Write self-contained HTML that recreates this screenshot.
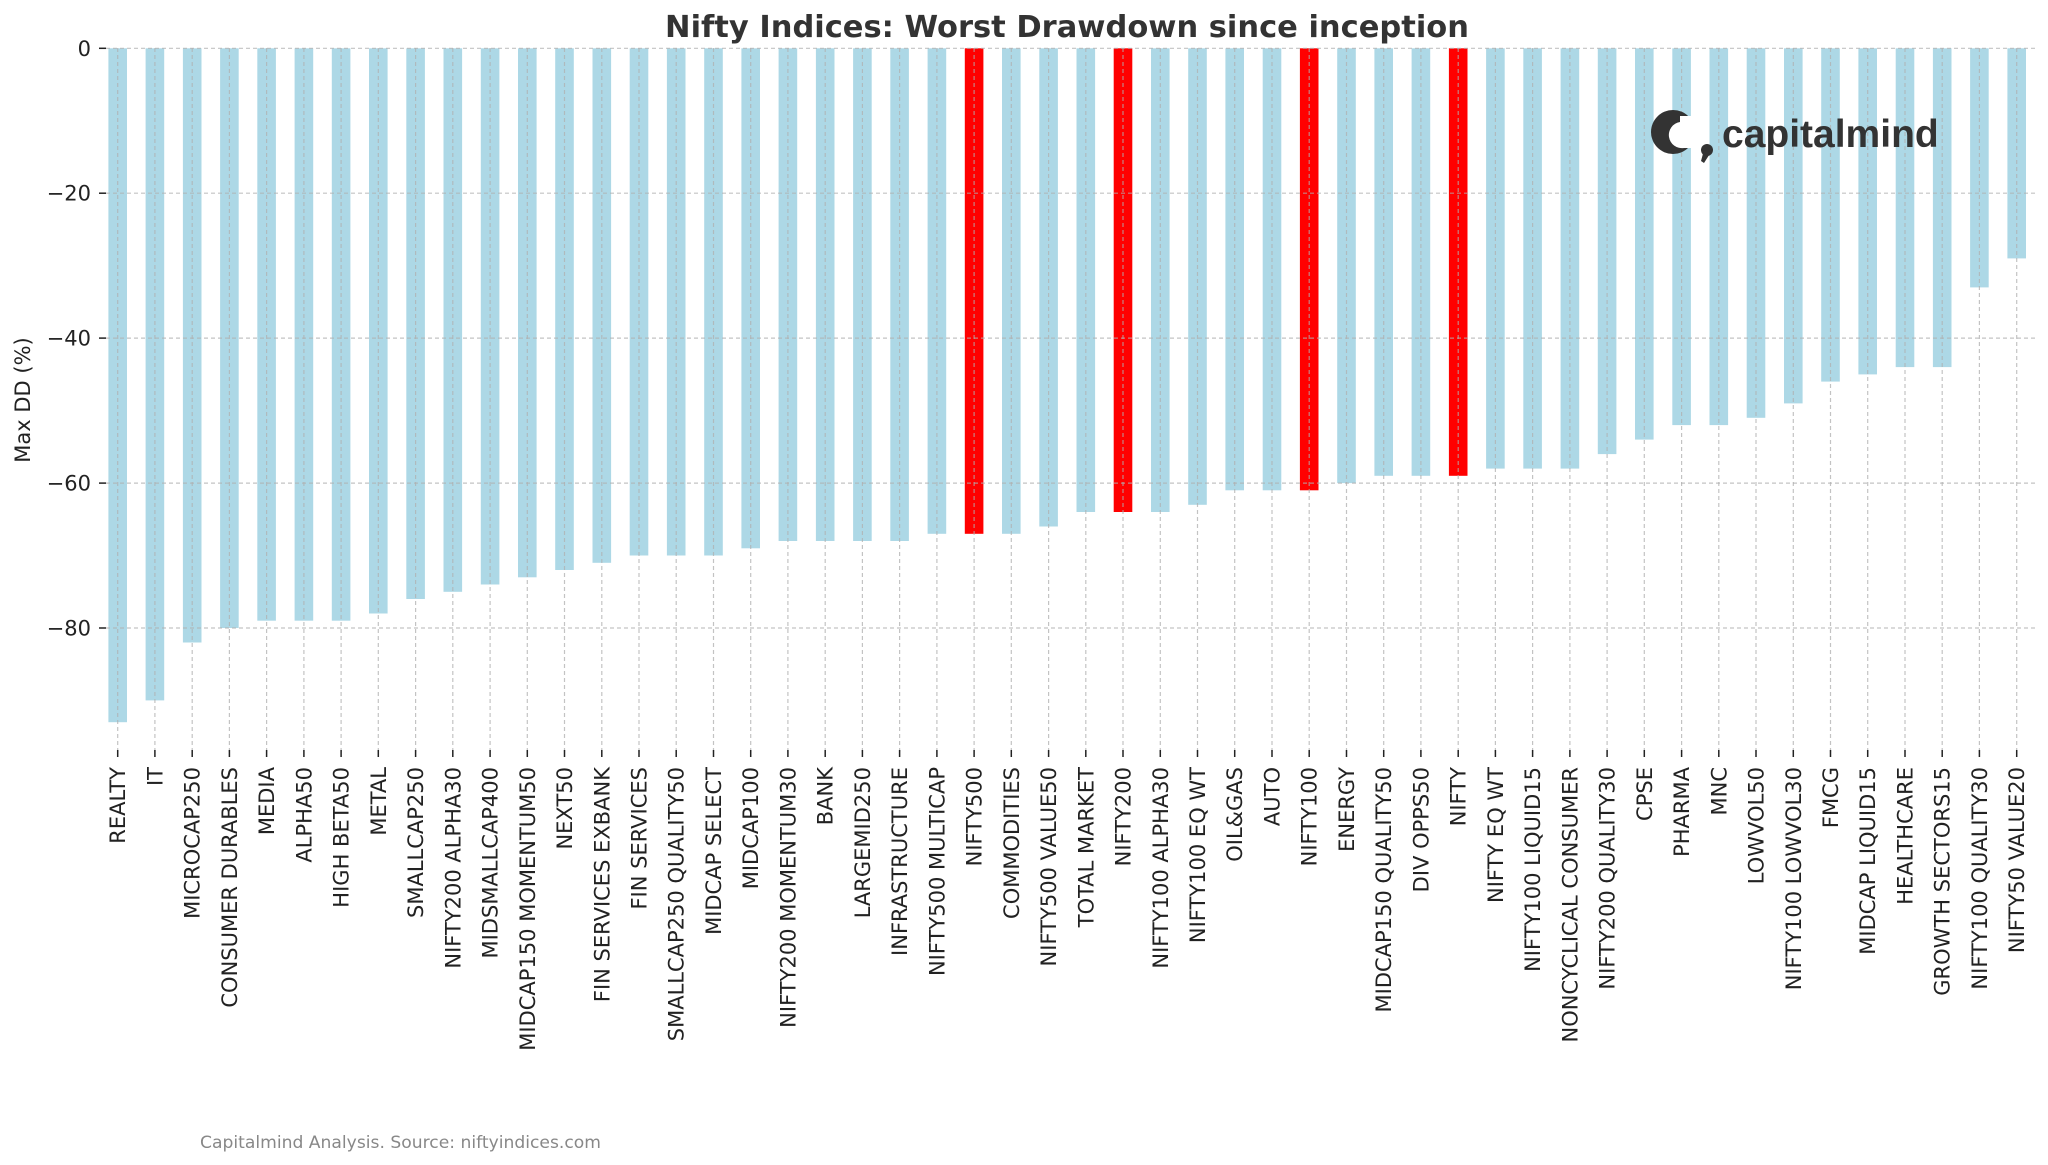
<!DOCTYPE html>
<html><head><meta charset="utf-8"><style>
html,body{margin:0;padding:0;background:#fff}svg{display:block}
.b{fill:#ADD8E6}.r{fill:#FF0000}
.g{stroke:#b0b0b0;stroke-width:1.2;stroke-dasharray:4,3;opacity:0.75}
.t{stroke:#222;stroke-width:1.5}
.l{font-size:21px;fill:#222;text-anchor:end}
</style></head><body>
<svg width="2048" height="1165" viewBox="0 0 2048 1165" xmlns="http://www.w3.org/2000/svg" font-family="DejaVu Sans, Liberation Sans, sans-serif">
<rect width="2048" height="1165" fill="#fff"/>
<g id="bars">
<g transform="translate(117.7,0)"><rect class="b" x="-9.3" y="48.3" width="18.6" height="673.9"/><line class="g" x1="0" y1="48" x2="0" y2="752"/><line class="t" x1="0" y1="750" x2="0" y2="757"/><text class="l" transform="translate(7.5,767) rotate(-90)">REALTY</text></g>
<g transform="translate(154.9,0)"><rect class="b" x="-9.3" y="48.3" width="18.6" height="652.1"/><line class="g" x1="0" y1="48" x2="0" y2="752"/><line class="t" x1="0" y1="750" x2="0" y2="757"/><text class="l" transform="translate(7.5,767) rotate(-90)">IT</text></g>
<g transform="translate(192.2,0)"><rect class="b" x="-9.3" y="48.3" width="18.6" height="594.2"/><line class="g" x1="0" y1="48" x2="0" y2="752"/><line class="t" x1="0" y1="750" x2="0" y2="757"/><text class="l" transform="translate(7.5,767) rotate(-90)">MICROCAP250</text></g>
<g transform="translate(229.4,0)"><rect class="b" x="-9.3" y="48.3" width="18.6" height="579.7"/><line class="g" x1="0" y1="48" x2="0" y2="752"/><line class="t" x1="0" y1="750" x2="0" y2="757"/><text class="l" transform="translate(7.5,767) rotate(-90)">CONSUMER DURABLES</text></g>
<g transform="translate(266.6,0)"><rect class="b" x="-9.3" y="48.3" width="18.6" height="572.4"/><line class="g" x1="0" y1="48" x2="0" y2="752"/><line class="t" x1="0" y1="750" x2="0" y2="757"/><text class="l" transform="translate(7.5,767) rotate(-90)">MEDIA</text></g>
<g transform="translate(303.9,0)"><rect class="b" x="-9.3" y="48.3" width="18.6" height="572.4"/><line class="g" x1="0" y1="48" x2="0" y2="752"/><line class="t" x1="0" y1="750" x2="0" y2="757"/><text class="l" transform="translate(7.5,767) rotate(-90)">ALPHA50</text></g>
<g transform="translate(341.1,0)"><rect class="b" x="-9.3" y="48.3" width="18.6" height="572.4"/><line class="g" x1="0" y1="48" x2="0" y2="752"/><line class="t" x1="0" y1="750" x2="0" y2="757"/><text class="l" transform="translate(7.5,767) rotate(-90)">HIGH BETA50</text></g>
<g transform="translate(378.3,0)"><rect class="b" x="-9.3" y="48.3" width="18.6" height="565.2"/><line class="g" x1="0" y1="48" x2="0" y2="752"/><line class="t" x1="0" y1="750" x2="0" y2="757"/><text class="l" transform="translate(7.5,767) rotate(-90)">METAL</text></g>
<g transform="translate(415.6,0)"><rect class="b" x="-9.3" y="48.3" width="18.6" height="550.7"/><line class="g" x1="0" y1="48" x2="0" y2="752"/><line class="t" x1="0" y1="750" x2="0" y2="757"/><text class="l" transform="translate(7.5,767) rotate(-90)">SMALLCAP250</text></g>
<g transform="translate(452.8,0)"><rect class="b" x="-9.3" y="48.3" width="18.6" height="543.5"/><line class="g" x1="0" y1="48" x2="0" y2="752"/><line class="t" x1="0" y1="750" x2="0" y2="757"/><text class="l" transform="translate(7.5,767) rotate(-90)">NIFTY200 ALPHA30</text></g>
<g transform="translate(490.1,0)"><rect class="b" x="-9.3" y="48.3" width="18.6" height="536.2"/><line class="g" x1="0" y1="48" x2="0" y2="752"/><line class="t" x1="0" y1="750" x2="0" y2="757"/><text class="l" transform="translate(7.5,767) rotate(-90)">MIDSMALLCAP400</text></g>
<g transform="translate(527.3,0)"><rect class="b" x="-9.3" y="48.3" width="18.6" height="529.0"/><line class="g" x1="0" y1="48" x2="0" y2="752"/><line class="t" x1="0" y1="750" x2="0" y2="757"/><text class="l" transform="translate(7.5,767) rotate(-90)">MIDCAP150 MOMENTUM50</text></g>
<g transform="translate(564.5,0)"><rect class="b" x="-9.3" y="48.3" width="18.6" height="521.7"/><line class="g" x1="0" y1="48" x2="0" y2="752"/><line class="t" x1="0" y1="750" x2="0" y2="757"/><text class="l" transform="translate(7.5,767) rotate(-90)">NEXT50</text></g>
<g transform="translate(601.8,0)"><rect class="b" x="-9.3" y="48.3" width="18.6" height="514.5"/><line class="g" x1="0" y1="48" x2="0" y2="752"/><line class="t" x1="0" y1="750" x2="0" y2="757"/><text class="l" transform="translate(7.5,767) rotate(-90)">FIN SERVICES EXBANK</text></g>
<g transform="translate(639.0,0)"><rect class="b" x="-9.3" y="48.3" width="18.6" height="507.2"/><line class="g" x1="0" y1="48" x2="0" y2="752"/><line class="t" x1="0" y1="750" x2="0" y2="757"/><text class="l" transform="translate(7.5,767) rotate(-90)">FIN SERVICES</text></g>
<g transform="translate(676.2,0)"><rect class="b" x="-9.3" y="48.3" width="18.6" height="507.2"/><line class="g" x1="0" y1="48" x2="0" y2="752"/><line class="t" x1="0" y1="750" x2="0" y2="757"/><text class="l" transform="translate(7.5,767) rotate(-90)">SMALLCAP250 QUALITY50</text></g>
<g transform="translate(713.5,0)"><rect class="b" x="-9.3" y="48.3" width="18.6" height="507.2"/><line class="g" x1="0" y1="48" x2="0" y2="752"/><line class="t" x1="0" y1="750" x2="0" y2="757"/><text class="l" transform="translate(7.5,767) rotate(-90)">MIDCAP SELECT</text></g>
<g transform="translate(750.7,0)"><rect class="b" x="-9.3" y="48.3" width="18.6" height="500.0"/><line class="g" x1="0" y1="48" x2="0" y2="752"/><line class="t" x1="0" y1="750" x2="0" y2="757"/><text class="l" transform="translate(7.5,767) rotate(-90)">MIDCAP100</text></g>
<g transform="translate(787.9,0)"><rect class="b" x="-9.3" y="48.3" width="18.6" height="492.7"/><line class="g" x1="0" y1="48" x2="0" y2="752"/><line class="t" x1="0" y1="750" x2="0" y2="757"/><text class="l" transform="translate(7.5,767) rotate(-90)">NIFTY200 MOMENTUM30</text></g>
<g transform="translate(825.2,0)"><rect class="b" x="-9.3" y="48.3" width="18.6" height="492.7"/><line class="g" x1="0" y1="48" x2="0" y2="752"/><line class="t" x1="0" y1="750" x2="0" y2="757"/><text class="l" transform="translate(7.5,767) rotate(-90)">BANK</text></g>
<g transform="translate(862.4,0)"><rect class="b" x="-9.3" y="48.3" width="18.6" height="492.7"/><line class="g" x1="0" y1="48" x2="0" y2="752"/><line class="t" x1="0" y1="750" x2="0" y2="757"/><text class="l" transform="translate(7.5,767) rotate(-90)">LARGEMID250</text></g>
<g transform="translate(899.6,0)"><rect class="b" x="-9.3" y="48.3" width="18.6" height="492.7"/><line class="g" x1="0" y1="48" x2="0" y2="752"/><line class="t" x1="0" y1="750" x2="0" y2="757"/><text class="l" transform="translate(7.5,767) rotate(-90)">INFRASTRUCTURE</text></g>
<g transform="translate(936.9,0)"><rect class="b" x="-9.3" y="48.3" width="18.6" height="485.5"/><line class="g" x1="0" y1="48" x2="0" y2="752"/><line class="t" x1="0" y1="750" x2="0" y2="757"/><text class="l" transform="translate(7.5,767) rotate(-90)">NIFTY500 MULTICAP</text></g>
<g transform="translate(974.1,0)"><rect class="r" x="-9.3" y="48.3" width="18.6" height="485.5"/><line class="g" x1="0" y1="48" x2="0" y2="752"/><line class="t" x1="0" y1="750" x2="0" y2="757"/><text class="l" transform="translate(7.5,767) rotate(-90)">NIFTY500</text></g>
<g transform="translate(1011.3,0)"><rect class="b" x="-9.3" y="48.3" width="18.6" height="485.5"/><line class="g" x1="0" y1="48" x2="0" y2="752"/><line class="t" x1="0" y1="750" x2="0" y2="757"/><text class="l" transform="translate(7.5,767) rotate(-90)">COMMODITIES</text></g>
<g transform="translate(1048.6,0)"><rect class="b" x="-9.3" y="48.3" width="18.6" height="478.2"/><line class="g" x1="0" y1="48" x2="0" y2="752"/><line class="t" x1="0" y1="750" x2="0" y2="757"/><text class="l" transform="translate(7.5,767) rotate(-90)">NIFTY500 VALUE50</text></g>
<g transform="translate(1085.8,0)"><rect class="b" x="-9.3" y="48.3" width="18.6" height="463.7"/><line class="g" x1="0" y1="48" x2="0" y2="752"/><line class="t" x1="0" y1="750" x2="0" y2="757"/><text class="l" transform="translate(7.5,767) rotate(-90)">TOTAL MARKET</text></g>
<g transform="translate(1123.0,0)"><rect class="r" x="-9.3" y="48.3" width="18.6" height="463.7"/><line class="g" x1="0" y1="48" x2="0" y2="752"/><line class="t" x1="0" y1="750" x2="0" y2="757"/><text class="l" transform="translate(7.5,767) rotate(-90)">NIFTY200</text></g>
<g transform="translate(1160.3,0)"><rect class="b" x="-9.3" y="48.3" width="18.6" height="463.7"/><line class="g" x1="0" y1="48" x2="0" y2="752"/><line class="t" x1="0" y1="750" x2="0" y2="757"/><text class="l" transform="translate(7.5,767) rotate(-90)">NIFTY100 ALPHA30</text></g>
<g transform="translate(1197.5,0)"><rect class="b" x="-9.3" y="48.3" width="18.6" height="456.5"/><line class="g" x1="0" y1="48" x2="0" y2="752"/><line class="t" x1="0" y1="750" x2="0" y2="757"/><text class="l" transform="translate(7.5,767) rotate(-90)">NIFTY100 EQ WT</text></g>
<g transform="translate(1234.7,0)"><rect class="b" x="-9.3" y="48.3" width="18.6" height="442.0"/><line class="g" x1="0" y1="48" x2="0" y2="752"/><line class="t" x1="0" y1="750" x2="0" y2="757"/><text class="l" transform="translate(7.5,767) rotate(-90)">OIL&amp;GAS</text></g>
<g transform="translate(1272.0,0)"><rect class="b" x="-9.3" y="48.3" width="18.6" height="442.0"/><line class="g" x1="0" y1="48" x2="0" y2="752"/><line class="t" x1="0" y1="750" x2="0" y2="757"/><text class="l" transform="translate(7.5,767) rotate(-90)">AUTO</text></g>
<g transform="translate(1309.2,0)"><rect class="r" x="-9.3" y="48.3" width="18.6" height="442.0"/><line class="g" x1="0" y1="48" x2="0" y2="752"/><line class="t" x1="0" y1="750" x2="0" y2="757"/><text class="l" transform="translate(7.5,767) rotate(-90)">NIFTY100</text></g>
<g transform="translate(1346.5,0)"><rect class="b" x="-9.3" y="48.3" width="18.6" height="434.8"/><line class="g" x1="0" y1="48" x2="0" y2="752"/><line class="t" x1="0" y1="750" x2="0" y2="757"/><text class="l" transform="translate(7.5,767) rotate(-90)">ENERGY</text></g>
<g transform="translate(1383.7,0)"><rect class="b" x="-9.3" y="48.3" width="18.6" height="427.5"/><line class="g" x1="0" y1="48" x2="0" y2="752"/><line class="t" x1="0" y1="750" x2="0" y2="757"/><text class="l" transform="translate(7.5,767) rotate(-90)">MIDCAP150 QUALITY50</text></g>
<g transform="translate(1420.9,0)"><rect class="b" x="-9.3" y="48.3" width="18.6" height="427.5"/><line class="g" x1="0" y1="48" x2="0" y2="752"/><line class="t" x1="0" y1="750" x2="0" y2="757"/><text class="l" transform="translate(7.5,767) rotate(-90)">DIV OPPS50</text></g>
<g transform="translate(1458.2,0)"><rect class="r" x="-9.3" y="48.3" width="18.6" height="427.5"/><line class="g" x1="0" y1="48" x2="0" y2="752"/><line class="t" x1="0" y1="750" x2="0" y2="757"/><text class="l" transform="translate(7.5,767) rotate(-90)">NIFTY</text></g>
<g transform="translate(1495.4,0)"><rect class="b" x="-9.3" y="48.3" width="18.6" height="420.3"/><line class="g" x1="0" y1="48" x2="0" y2="752"/><line class="t" x1="0" y1="750" x2="0" y2="757"/><text class="l" transform="translate(7.5,767) rotate(-90)">NIFTY EQ WT</text></g>
<g transform="translate(1532.6,0)"><rect class="b" x="-9.3" y="48.3" width="18.6" height="420.3"/><line class="g" x1="0" y1="48" x2="0" y2="752"/><line class="t" x1="0" y1="750" x2="0" y2="757"/><text class="l" transform="translate(7.5,767) rotate(-90)">NIFTY100 LIQUID15</text></g>
<g transform="translate(1569.9,0)"><rect class="b" x="-9.3" y="48.3" width="18.6" height="420.3"/><line class="g" x1="0" y1="48" x2="0" y2="752"/><line class="t" x1="0" y1="750" x2="0" y2="757"/><text class="l" transform="translate(7.5,767) rotate(-90)">NONCYCLICAL CONSUMER</text></g>
<g transform="translate(1607.1,0)"><rect class="b" x="-9.3" y="48.3" width="18.6" height="405.8"/><line class="g" x1="0" y1="48" x2="0" y2="752"/><line class="t" x1="0" y1="750" x2="0" y2="757"/><text class="l" transform="translate(7.5,767) rotate(-90)">NIFTY200 QUALITY30</text></g>
<g transform="translate(1644.3,0)"><rect class="b" x="-9.3" y="48.3" width="18.6" height="391.3"/><line class="g" x1="0" y1="48" x2="0" y2="752"/><line class="t" x1="0" y1="750" x2="0" y2="757"/><text class="l" transform="translate(7.5,767) rotate(-90)">CPSE</text></g>
<g transform="translate(1681.6,0)"><rect class="b" x="-9.3" y="48.3" width="18.6" height="376.8"/><line class="g" x1="0" y1="48" x2="0" y2="752"/><line class="t" x1="0" y1="750" x2="0" y2="757"/><text class="l" transform="translate(7.5,767) rotate(-90)">PHARMA</text></g>
<g transform="translate(1718.8,0)"><rect class="b" x="-9.3" y="48.3" width="18.6" height="376.8"/><line class="g" x1="0" y1="48" x2="0" y2="752"/><line class="t" x1="0" y1="750" x2="0" y2="757"/><text class="l" transform="translate(7.5,767) rotate(-90)">MNC</text></g>
<g transform="translate(1756.0,0)"><rect class="b" x="-9.3" y="48.3" width="18.6" height="369.5"/><line class="g" x1="0" y1="48" x2="0" y2="752"/><line class="t" x1="0" y1="750" x2="0" y2="757"/><text class="l" transform="translate(7.5,767) rotate(-90)">LOWVOL50</text></g>
<g transform="translate(1793.3,0)"><rect class="b" x="-9.3" y="48.3" width="18.6" height="355.1"/><line class="g" x1="0" y1="48" x2="0" y2="752"/><line class="t" x1="0" y1="750" x2="0" y2="757"/><text class="l" transform="translate(7.5,767) rotate(-90)">NIFTY100 LOWVOL30</text></g>
<g transform="translate(1830.5,0)"><rect class="b" x="-9.3" y="48.3" width="18.6" height="333.3"/><line class="g" x1="0" y1="48" x2="0" y2="752"/><line class="t" x1="0" y1="750" x2="0" y2="757"/><text class="l" transform="translate(7.5,767) rotate(-90)">FMCG</text></g>
<g transform="translate(1867.7,0)"><rect class="b" x="-9.3" y="48.3" width="18.6" height="326.1"/><line class="g" x1="0" y1="48" x2="0" y2="752"/><line class="t" x1="0" y1="750" x2="0" y2="757"/><text class="l" transform="translate(7.5,767) rotate(-90)">MIDCAP LIQUID15</text></g>
<g transform="translate(1905.0,0)"><rect class="b" x="-9.3" y="48.3" width="18.6" height="318.8"/><line class="g" x1="0" y1="48" x2="0" y2="752"/><line class="t" x1="0" y1="750" x2="0" y2="757"/><text class="l" transform="translate(7.5,767) rotate(-90)">HEALTHCARE</text></g>
<g transform="translate(1942.2,0)"><rect class="b" x="-9.3" y="48.3" width="18.6" height="318.8"/><line class="g" x1="0" y1="48" x2="0" y2="752"/><line class="t" x1="0" y1="750" x2="0" y2="757"/><text class="l" transform="translate(7.5,767) rotate(-90)">GROWTH SECTORS15</text></g>
<g transform="translate(1979.4,0)"><rect class="b" x="-9.3" y="48.3" width="18.6" height="239.1"/><line class="g" x1="0" y1="48" x2="0" y2="752"/><line class="t" x1="0" y1="750" x2="0" y2="757"/><text class="l" transform="translate(7.5,767) rotate(-90)">NIFTY100 QUALITY30</text></g>
<g transform="translate(2016.7,0)"><rect class="b" x="-9.3" y="48.3" width="18.6" height="210.1"/><line class="g" x1="0" y1="48" x2="0" y2="752"/><line class="t" x1="0" y1="750" x2="0" y2="757"/><text class="l" transform="translate(7.5,767) rotate(-90)">NIFTY50 VALUE20</text></g>
</g>
<g>
<line class="g" x1="106" y1="48.3" x2="2036" y2="48.3"/>
<line class="g" x1="106" y1="193.2" x2="2036" y2="193.2"/>
<line class="g" x1="106" y1="338.1" x2="2036" y2="338.1"/>
<line class="g" x1="106" y1="483.1" x2="2036" y2="483.1"/>
<line class="g" x1="106" y1="628.0" x2="2036" y2="628.0"/>
<line class="t" x1="99" y1="48.3" x2="106" y2="48.3"/>
<line class="t" x1="99" y1="193.2" x2="106" y2="193.2"/>
<line class="t" x1="99" y1="338.1" x2="106" y2="338.1"/>
<line class="t" x1="99" y1="483.1" x2="106" y2="483.1"/>
<line class="t" x1="99" y1="628.0" x2="106" y2="628.0"/>
</g>
<g font-size="21" fill="#222" text-anchor="end">
<text x="91" y="55.8">0</text>
<text x="91" y="200.7">−20</text>
<text x="91" y="345.6">−40</text>
<text x="91" y="490.6">−60</text>
<text x="91" y="635.5">−80</text>
</g>
<text transform="translate(30,400) rotate(-90)" font-size="21" fill="#222" text-anchor="middle">Max DD (%)</text>
<text x="1067" y="37" font-size="30.5" font-weight="bold" fill="#333" text-anchor="middle">Nifty Indices: Worst Drawdown since inception</text>
<g fill="#333">
<circle cx="1673" cy="132" r="22"/>
<path d="M1680,116 L1697,116 L1697,148 L1684,148 A12,12 0 0 1 1680,122 Z" fill="#fff"/>
<circle cx="1707" cy="150" r="6"/>
<path d="M1711,152 L1704,163 L1701,161 L1704,150 Z"/>
</g>
<text x="1722" y="147" font-family="Liberation Sans, sans-serif" font-weight="bold" font-size="39" fill="#333">capitalmind</text>
<text x="200" y="1148" font-size="17" fill="#888" textLength="401" lengthAdjust="spacingAndGlyphs">Capitalmind Analysis. Source: niftyindices.com</text>
</svg>
</body></html>
